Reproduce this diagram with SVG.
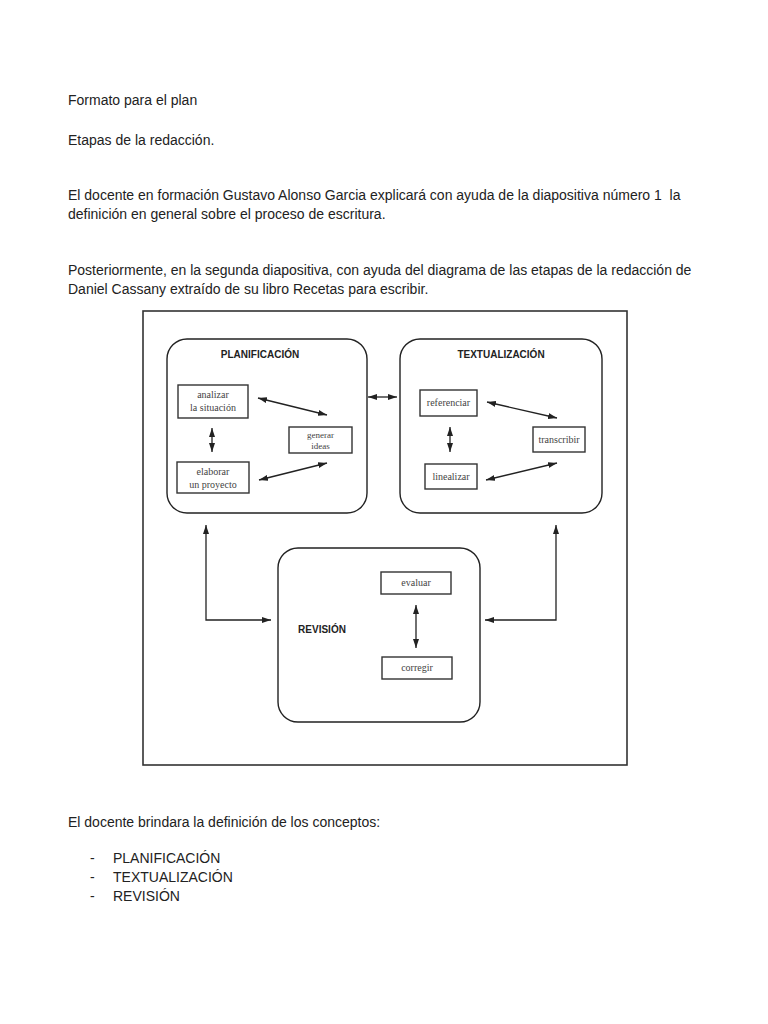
<svg xmlns="http://www.w3.org/2000/svg" width="768" height="1024" viewBox="0 0 768 1024">
<style>
.doc{font-family:"Liberation Sans",Arial,sans-serif;font-size:14px;fill:#222}
.frame{fill:none;stroke:#333;stroke-width:1.6}
.group{fill:#fff;stroke:#222;stroke-width:1.4}
.box{fill:#fff;stroke:#333;stroke-width:1.4}
.title{font-family:"Liberation Sans",Arial,sans-serif;font-size:10px;font-weight:bold;fill:#222;text-anchor:middle}
.lbl{font-family:"Liberation Serif","Times New Roman",serif;font-size:10px;fill:#444;text-anchor:middle}
.sm{font-size:9px}
.conn{fill:none;stroke:#222;stroke-width:1.3;marker-start:url(#ah);marker-end:url(#ah)}
</style>
<defs>
<marker id="ah" viewBox="0 0 9 6" refX="9" refY="3" markerWidth="9" markerHeight="6" markerUnits="userSpaceOnUse" orient="auto-start-reverse">
<path d="M0,0 L9,3 L0,6 z" fill="#222"/>
</marker>
</defs>
<rect width="768" height="1024" fill="#fff"/>
<g id="text-top">
<text class="doc" x="68" y="105">Formato para el plan</text>
<text class="doc" x="68" y="145">Etapas de la redacción.</text>
<text class="doc" x="68" y="200" xml:space="preserve">El docente en formación Gustavo Alonso Garcia explicará con ayuda de la diapositiva número 1  la</text>
<text class="doc" x="68" y="219">definición en general sobre el proceso de escritura.</text>
<text class="doc" x="68" y="275">Posteriormente, en la segunda diapositiva, con ayuda del diagrama de las etapas de la redacción de</text>
<text class="doc" x="68" y="294">Daniel Cassany extraído de su libro Recetas para escribir.</text>
</g>
<g id="frame"><rect class="frame" x="143" y="311" width="484" height="454"/></g>
<g id="planificacion">
<rect class="group" x="167" y="339" width="200" height="174" rx="20"/>
<text class="title" x="260" y="358">PLANIFICACIÓN</text>
</g>
<g id="analizar">
<rect class="box" x="178" y="385" width="70" height="33"/>
<text class="lbl" x="213" y="398">analizar</text>
<text class="lbl" x="213" y="411">la situación</text>
</g>
<g id="elaborar">
<rect class="box" x="177" y="462" width="72" height="31"/>
<text class="lbl" x="213" y="475">elaborar</text>
<text class="lbl" x="213" y="488">un proyecto</text>
</g>
<g id="generar">
<rect class="box" x="289" y="427" width="63" height="26"/>
<text class="lbl sm" x="320.5" y="438">generar</text>
<text class="lbl sm" x="320.5" y="449">ideas</text>
</g>
<g id="textualizacion">
<rect class="group" x="400" y="339" width="202" height="174" rx="20"/>
<text class="title" x="501" y="358">TEXTUALIZACIÓN</text>
</g>
<g id="referenciar">
<rect class="box" x="420" y="390" width="57" height="26"/>
<text class="lbl" x="448.5" y="406">referenciar</text>
</g>
<g id="transcribir">
<rect class="box" x="533" y="427" width="52" height="25"/>
<text class="lbl" x="559" y="443">transcribir</text>
</g>
<g id="linealizar">
<rect class="box" x="425" y="464" width="52" height="25"/>
<text class="lbl" x="451" y="480">linealizar</text>
</g>
<g id="revision">
<rect class="group" x="278" y="548" width="202" height="174" rx="20"/>
<text class="title" x="322" y="633">REVISIÓN</text>
</g>
<g id="evaluar">
<rect class="box" x="381" y="572" width="70" height="22"/>
<text class="lbl" x="416" y="586">evaluar</text>
</g>
<g id="corregir">
<rect class="box" x="382" y="657" width="70" height="22"/>
<text class="lbl" x="417" y="671">corregir</text>
</g>
<g id="connectors">
<line class="conn" x1="258" y1="398" x2="327" y2="415"/>
<line class="conn" x1="259" y1="480" x2="327" y2="463"/>
<line class="conn" x1="212" y1="428" x2="212" y2="452"/>
<line class="conn" x1="368" y1="397" x2="397" y2="397"/>
<line class="conn" x1="487" y1="402" x2="557" y2="418"/>
<line class="conn" x1="486" y1="480" x2="557" y2="463"/>
<line class="conn" x1="450" y1="427" x2="450" y2="452"/>
<polyline class="conn" points="206,525 206,620 271,620"/>
<polyline class="conn" points="556,525 556,620 485,620"/>
<line class="conn" x1="416" y1="605" x2="416" y2="648"/>
</g>
<g id="text-bottom">
<text class="doc" x="68" y="827">El docente brindara la definición de los conceptos:</text>
<text class="doc" x="90" y="863">-</text>
<text class="doc" x="113" y="863">PLANIFICACIÓN</text>
<text class="doc" x="90" y="882">-</text>
<text class="doc" x="113" y="882">TEXTUALIZACIÓN</text>
<text class="doc" x="90" y="901">-</text>
<text class="doc" x="113" y="901">REVISIÓN</text>
</g>
</svg>
